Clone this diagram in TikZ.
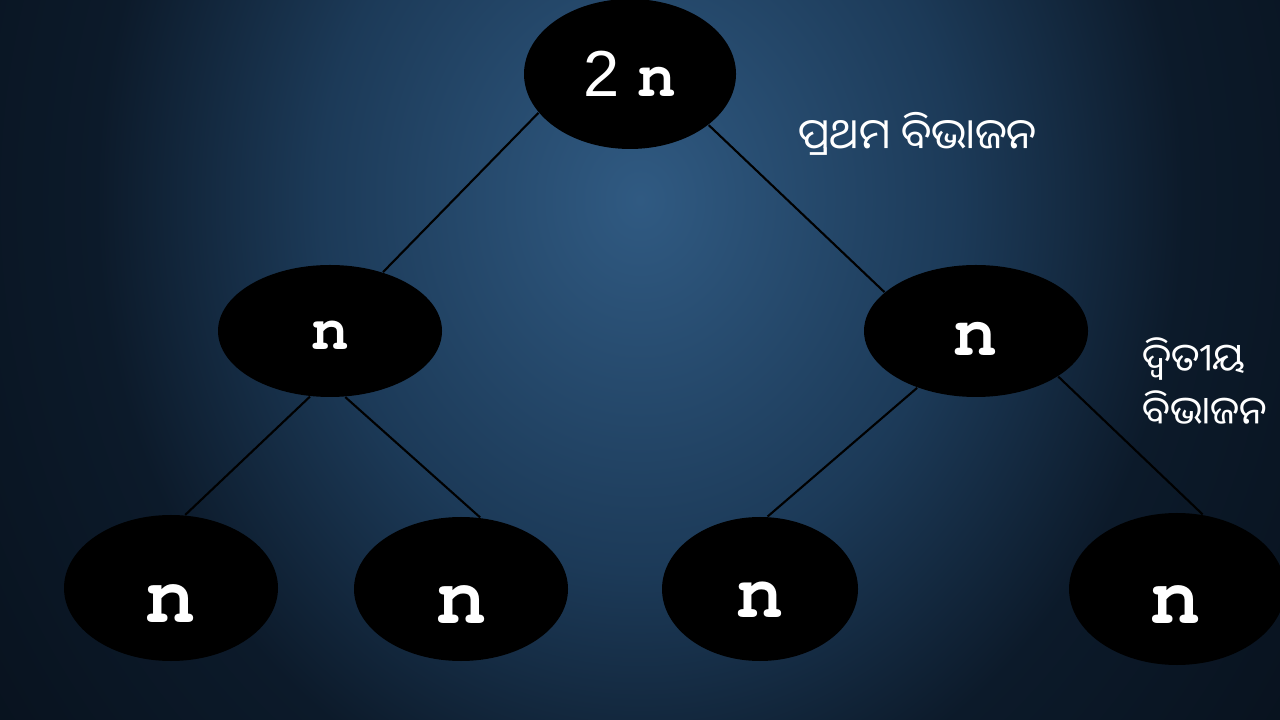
\documentclass[tikz,border=0pt]{standalone}
\usepackage{fontspec}
\usetikzlibrary{shapes.geometric}
\newfontfamily\cournfont{texgyrecursor-bold.otf}
\newfontfamily\digitfont{Liberation Sans}
\newfontfamily\odiafont[Script=Oriya]{Noto Sans Oriya UI}
\definecolor{bgin}{RGB}{48,90,130}
\definecolor{bgmid}{RGB}{28,58,88}
\definecolor{bgdark}{RGB}{12,26,42}
\definecolor{bgout}{RGB}{8,18,30}
\pgfdeclareradialshading{bgshade}{\pgfpoint{0bp}{0bp}}{color(0bp)=(bgin); color(10bp)=(bgmid); color(17bp)=(bgdark); color(25bp)=(bgout); color(50bp)=(bgout)}
\begin{document}
\begin{tikzpicture}[
  oval/.style={ellipse, fill=black, inner sep=0pt},
  conn/.style={line width=0.6pt, black},
  ntext/.style={text=white, anchor=base, inner sep=0pt, font=\cournfont\fontsize{#1}{#1}\selectfont},
  otext/.style={text=white, anchor=base west, inner sep=0pt, align=left, font=\odiafont\fontsize{#1}{#1}\selectfont}
]
\useasboundingbox (0,0) rectangle (12.8,-7.2);
\clip (0,0) rectangle (12.8,-7.2);
\fill[bgout] (0,0) rectangle (12.8,-7.2);
\shade[shading=bgshade] (6.4,-2.0) ellipse (8.0 and 9.3);

% ellipses
\node[oval, minimum width=2.12cm, minimum height=1.5cm] (t) at (6.30,-0.74) {};
\node[oval, minimum width=2.24cm, minimum height=1.32cm] (ml) at (3.30,-3.31) {};
\node[oval, minimum width=2.24cm, minimum height=1.32cm] (mr) at (9.76,-3.31) {};
\node[oval, minimum width=2.14cm, minimum height=1.46cm] (b1) at (1.71,-5.88) {};
\node[oval, minimum width=2.14cm, minimum height=1.44cm] (b2) at (4.61,-5.89) {};
\node[oval, minimum width=1.96cm, minimum height=1.44cm] (b3) at (7.60,-5.89) {};
\node[oval, minimum width=2.16cm, minimum height=1.52cm] (b4) at (11.77,-5.89) {};

% connectors
\draw[conn] (t.203.7) -- (ml.48);
\draw[conn] (t.-33.5) -- (mr.157.8);
\draw[conn] (ml.253.7) -- (b1.79);
\draw[conn] (ml.283) -- (b2.75);
\draw[conn] (mr.224) -- (b3.84);
\draw[conn] (mr.-29) -- (b4.71);

% texts
\node[ntext=18.5] (tt) at (6.30,-0.97) {{\digitfont 2 }n};
\node[ntext=18] (mlt) at (3.30,-3.50) {n};
\node[ntext=21] (mrt) at (9.76,-3.56) {n};
\node[ntext=24] (b1t) at (1.71,-6.22) {n};
\node[ntext=24] (b2t) at (4.62,-6.23) {n};
\node[ntext=22.5] (b3t) at (7.60,-6.17) {n};
\node[ntext=24] (b4t) at (11.76,-6.23) {n};

\node[otext=12] (l1) at (7.98,-1.53) {ପ୍ରଥମ ବିଭାଜନ};
\node[otext=11] (l2) at (11.42,-4.28) {ଦ୍ୱିତୀୟ\\[2pt]ବିଭାଜନ};
\end{tikzpicture}
\end{document}
